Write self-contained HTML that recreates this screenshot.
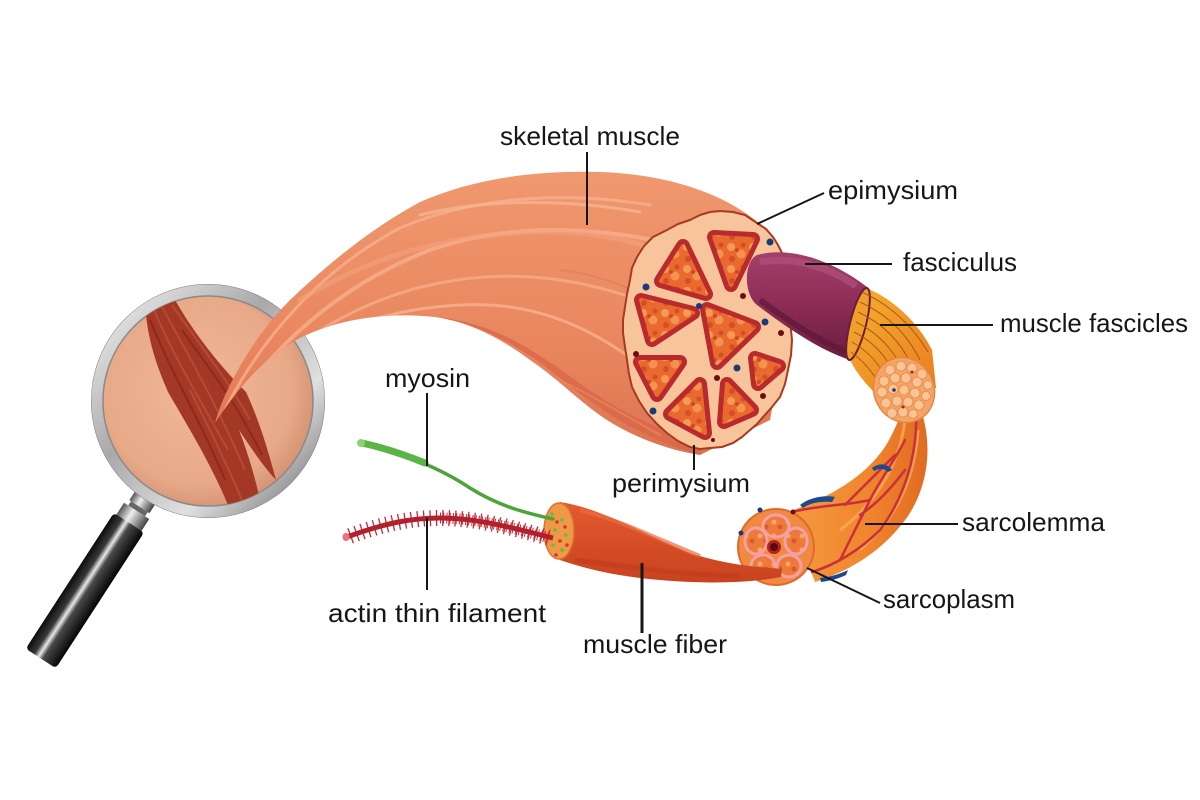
<!DOCTYPE html>
<html><head><meta charset="utf-8"><style>
html,body{margin:0;padding:0;background:#fff;}
svg{display:block;}
text{font-family:"Liberation Sans",Arial,sans-serif;font-size:26px;fill:#161616;}
</style></head><body>
<svg width="1200" height="800" viewBox="0 0 1200 800" xmlns="http://www.w3.org/2000/svg">
<defs>
  <linearGradient id="musc" x1="0" y1="0" x2="0" y2="1">
    <stop offset="0" stop-color="#f0986f"/><stop offset="0.6" stop-color="#e9865f"/><stop offset="1" stop-color="#dc7452"/>
  </linearGradient>
  <radialGradient id="lens" cx="0.45" cy="0.45" r="0.6">
    <stop offset="0" stop-color="#f0b898"/><stop offset="0.75" stop-color="#e8a988"/><stop offset="1" stop-color="#cf8f70"/>
  </radialGradient>
  <linearGradient id="ring" x1="0" y1="0" x2="1" y2="1">
    <stop offset="0" stop-color="#f4f4f4"/><stop offset="0.4" stop-color="#a9a9a9"/><stop offset="0.7" stop-color="#e0e0e0"/><stop offset="1" stop-color="#6a6a6a"/>
  </linearGradient>
  <linearGradient id="blk" x1="0" y1="0" x2="1" y2="0">
    <stop offset="0" stop-color="#0c0c0c"/><stop offset="0.28" stop-color="#3a3a3a"/><stop offset="0.42" stop-color="#e8e8e8"/><stop offset="0.55" stop-color="#4a4a4a"/><stop offset="1" stop-color="#050505"/>
  </linearGradient>
  <linearGradient id="silv" x1="0" y1="0" x2="1" y2="0">
    <stop offset="0" stop-color="#555"/><stop offset="0.4" stop-color="#eee"/><stop offset="0.7" stop-color="#999"/><stop offset="1" stop-color="#444"/>
  </linearGradient>
  <pattern id="mott" width="22" height="22" patternUnits="userSpaceOnUse">
    <rect width="22" height="22" fill="#e9692f"/>
    <circle cx="5" cy="5" r="4" fill="#f59a55"/><circle cx="15" cy="12" r="4.5" fill="#f49350"/>
    <circle cx="6" cy="17" r="3" fill="#d44f26"/><circle cx="17" cy="3" r="2.5" fill="#d44f26"/>
    <circle cx="11" cy="8" r="2" fill="#cf4a24"/>
  </pattern>
  <pattern id="mott2" width="14" height="14" patternUnits="userSpaceOnUse">
    <rect width="14" height="14" fill="#ee7a3a"/>
    <circle cx="4" cy="4" r="2.5" fill="#f6a868"/><circle cx="10" cy="9" r="2.5" fill="#d65a2a"/>
  </pattern>
  <linearGradient id="purp" x1="0" y1="0" x2="0" y2="1">
    <stop offset="0" stop-color="#a2406a"/><stop offset="0.5" stop-color="#8c2c55"/><stop offset="1" stop-color="#6a1d3e"/>
  </linearGradient>
  <linearGradient id="yel" x1="0" y1="0" x2="1" y2="1">
    <stop offset="0" stop-color="#f4b02c"/><stop offset="1" stop-color="#ea7d20"/>
  </linearGradient>
  <linearGradient id="sarc" x1="0" y1="0" x2="1" y2="0">
    <stop offset="0" stop-color="#f59a40"/><stop offset="0.6" stop-color="#f0842c"/><stop offset="1" stop-color="#e06a22"/>
  </linearGradient>
  <linearGradient id="fib" x1="0" y1="0" x2="0" y2="1">
    <stop offset="0" stop-color="#e45a30"/><stop offset="1" stop-color="#c9421f"/>
  </linearGradient>
  <clipPath id="lensclip"><circle cx="208" cy="401" r="105"/></clipPath>
  <clipPath id="bodyclip"><path d="M215,423 C222,395 250,340 290,300 C330,262 372,228 420,202 C470,180 530,170 600,172 C660,174 720,190 760,224 L792,300 L770,420 L700,455 C670,450 640,440 610,422 C580,403 560,380 530,360 C500,338 470,322 435,317 C390,312 340,318 300,338 C265,356 238,388 215,423 Z"/></clipPath>
</defs>

<!-- Magnifier handle -->
<g transform="translate(208,401) rotate(33)">
  <rect x="-12" y="114" width="24" height="12" fill="url(#silv)"/>
  <rect x="-10" y="126" width="20" height="5" fill="#666"/>
  <rect x="-15" y="131" width="30" height="14" fill="url(#silv)"/>
  <rect x="-18" y="145" width="36" height="162" rx="4" fill="url(#blk)"/>
</g>
<!-- Magnifier ring & lens -->
<circle cx="208" cy="401" r="117" fill="#7a7a7a"/>
<circle cx="208" cy="401" r="111" fill="none" stroke="url(#ring)" stroke-width="11"/>
<circle cx="208" cy="401" r="105" fill="url(#lens)" stroke="#8a8a8a" stroke-width="1.5"/>
<g clip-path="url(#lensclip)">
  <path d="M145,300 L175,300 C198,340 226,372 246,392 C259,420 268,450 276,480 C263,466 251,448 239,430 C249,456 258,486 264,520 L234,520 C216,472 190,430 168,392 C155,362 146,334 145,300 Z" fill="#a33826"/>
  <path d="M152,305 C170,350 200,400 228,450 M160,303 C185,350 215,400 245,470 M172,305 C200,345 228,380 250,420 M190,390 C210,430 230,470 248,515" stroke="#c0533a" stroke-width="2" fill="none" opacity="0.7"/>
  <path d="M150,320 C170,370 200,420 225,480 M182,330 C210,370 235,400 262,455" stroke="#7e2216" stroke-width="2" fill="none" opacity="0.6"/>
</g>

<!-- Main skeletal muscle body -->
<path d="M215,423 C222,395 250,340 290,300 C330,262 372,228 420,202 C470,180 530,170 600,172 C660,174 720,190 760,224 L792,300 L770,420 L700,455 C670,450 640,440 610,422 C580,403 560,380 530,360 C500,338 470,322 435,317 C390,312 340,318 300,338 C265,356 238,388 215,423 Z" fill="url(#musc)"/>
<g clip-path="url(#bodyclip)">
<path d="M435,317 C480,324 520,346 560,378 C600,410 640,438 700,455 L705,440 C650,430 610,405 575,380 C530,347 490,322 435,317 Z" fill="#d86847" opacity="0.8"/>
<g fill="none" stroke-linecap="round">
  <path d="M225,410 C260,340 320,270 400,228 C470,198 560,190 650,205" stroke="#f6b08e" stroke-width="3" opacity="0.8"/>
  <path d="M232,408 C275,345 340,285 430,250 C510,222 600,225 700,250" stroke="#f7b592" stroke-width="4" opacity="0.7"/>
  <path d="M222,415 C270,360 340,305 430,285 C520,265 600,280 690,320" stroke="#f5ad88" stroke-width="3" opacity="0.8"/>
  <path d="M240,398 C300,340 370,310 460,305 C550,300 610,340 660,380" stroke="#f8b896" stroke-width="3" opacity="0.7"/>
  <path d="M300,300 C380,250 470,230 560,232 C620,234 670,250 720,280" stroke="#f3a27e" stroke-width="5" opacity="0.6"/>
  <path d="M420,215 C480,200 560,198 640,212" stroke="#f8b694" stroke-width="3" opacity="0.7"/>
  <path d="M470,345 C530,360 590,395 660,435" stroke="#ec7f5e" stroke-width="2" opacity="0.8"/>
  <path d="M560,270 C610,275 660,300 700,330" stroke="#e07656" stroke-width="2" opacity="0.5"/>
</g>
</g>

<!-- Cross-section (epimysium) -->
<polygon points="757,223 745,215 733,212 720,211 710,212 700,215 690,220 678,224 667,230 653,237 644,246 637,257 632,268 630,280 627,294 625,307 623,320 623,333 625,347 627,360 629,374 632,387 639,401 647,413 657,424 667,433 678,441 690,447 700,449 710,448 722,447 733,443 742,437 750,430 757,424 763,417 772,407 780,397 785,384 788,370 791,355 792,340 791,330 790,323 788,306 785,290 784,272 782,253 778,245 773,237 766,229" fill="#f7c49c" stroke="#a83a22" stroke-width="2" stroke-linejoin="round"/>
<g stroke-linejoin="round">
  <g fill="#b92a2c" stroke="#b92a2c" stroke-width="14">
    <polygon points="714,237 753,239 731,285"/>
    <polygon points="683,246 661,281 706,294"/>
    <polygon points="641,300 693,313 652,340"/>
    <polygon points="707,309 754,327 717,363"/>
    <polygon points="640,362 680,362 657,395"/>
    <polygon points="700,384 670,414 705,433"/>
    <polygon points="727,384 752,410 724,422"/>
    <polygon points="755,358 779,366 758,384"/>
  </g>
  <g fill="url(#mott)" stroke="url(#mott)" stroke-width="4">
    <polygon points="714,237 753,239 731,285"/>
    <polygon points="683,246 661,281 706,294"/>
    <polygon points="641,300 693,313 652,340"/>
    <polygon points="707,309 754,327 717,363"/>
    <polygon points="640,362 680,362 657,395"/>
    <polygon points="700,384 670,414 705,433"/>
    <polygon points="727,384 752,410 724,422"/>
    <polygon points="755,358 779,366 758,384"/>
  </g>
</g>
<g fill="#1d3a78">
  <circle cx="770" cy="242" r="3.5"/><circle cx="646" cy="287" r="3.5"/><circle cx="699" cy="306" r="3"/>
  <circle cx="765" cy="322" r="3.5"/><circle cx="737" cy="368" r="3.5"/><circle cx="653" cy="411" r="3.5"/>
</g>
<g fill="#6b0f12">
  <circle cx="743" cy="296" r="3"/><circle cx="781" cy="333" r="3"/><circle cx="636" cy="354" r="3"/>
  <circle cx="717" cy="378" r="3"/><circle cx="763" cy="396" r="3"/><circle cx="713" cy="440" r="2"/>
</g>

<!-- Sarcolemma bundle -->
<path d="M913,392 C934,430 932,480 908,516 C884,550 852,570 815,582 L788,512 C830,497 868,476 888,442 C898,424 904,405 910,394 Z" fill="url(#sarc)"/>
<path d="M905,420 C900,460 880,500 840,530 M918,430 C915,480 895,520 860,550" stroke="#f8b060" stroke-width="3" fill="none" opacity="0.7"/>
<g fill="none" stroke="#c8303a" stroke-width="2.5" stroke-linecap="round">
  <path d="M915,398 C920,440 910,490 880,530 C860,550 835,565 812,572"/>
  <path d="M792,512 C820,505 850,505 870,500 C880,480 895,460 905,440"/>
  <path d="M870,500 C860,520 850,540 840,560"/>
  <path d="M845,505 C860,490 880,470 895,455"/>
  <path d="M905,470 C890,490 875,505 860,515"/>
</g>
<g fill="#1d4a8a">
  <path d="M800,505 C810,497 825,495 835,497 L832,502 C820,501 810,503 803,508 Z"/>
  <path d="M872,468 C880,462 888,464 892,470 L888,472 C884,468 879,468 874,471 Z"/>
  <path d="M820,578 C830,577 840,574 848,570 L846,575 C838,579 829,581 821,582 Z"/>
</g>

<!-- Fasciculus tube -->
<path d="M757,255 C790,246 832,260 867,287 L850,360 C820,350 790,330 757,305 C744,295 743,262 757,255 Z" fill="url(#purp)"/>
<path d="M760,262 C795,256 830,268 856,286" stroke="#b0507a" stroke-width="7" fill="none" opacity="0.7"/>
<path d="M760,300 C790,322 820,342 848,352" stroke="#5e1836" stroke-width="6" fill="none" opacity="0.7"/>
<!-- Muscle fascicles -->
<path d="M866,288 C892,298 918,322 932,350 L936,388 L874,392 C864,382 856,372 850,360 Z" fill="url(#yel)"/>
<ellipse cx="858" cy="324" rx="8" ry="37" transform="rotate(14 858 324)" fill="#f0a02a" stroke="#6a1d3e" stroke-width="2"/>
<g fill="none" stroke="#a8501a" stroke-width="1" opacity="0.9">
  <path d="M862,292 C890,305 912,325 928,352"/>
  <path d="M860,302 C886,314 906,332 920,360"/>
  <path d="M858,312 C882,323 900,340 912,366"/>
  <path d="M856,322 C878,333 894,350 904,372"/>
  <path d="M854,332 C874,342 888,358 896,378"/>
  <path d="M852,342 C868,351 880,364 888,382"/>
  <path d="M851,352 C862,360 872,370 880,386"/>
</g>
<!-- Bubble cap -->
<ellipse cx="904" cy="390" rx="30" ry="33" transform="rotate(-25 904 390)" fill="#f4a466" stroke="#e2863e" stroke-width="1.5"/>
<g fill="#fbc494" stroke="#e48a48" stroke-width="0.8">
  <circle cx="890" cy="370" r="5"/><circle cx="901" cy="366" r="5"/><circle cx="912" cy="368" r="5"/><circle cx="922" cy="374" r="5"/>
  <circle cx="884" cy="381" r="5"/><circle cx="895" cy="378" r="5"/><circle cx="906" cy="378" r="5"/><circle cx="917" cy="382" r="5"/><circle cx="928" cy="385" r="4.5"/>
  <circle cx="882" cy="392" r="5"/><circle cx="893" cy="389" r="5"/><circle cx="904" cy="390" r="5"/><circle cx="915" cy="393" r="5"/><circle cx="926" cy="396" r="4.5"/>
  <circle cx="886" cy="403" r="5"/><circle cx="897" cy="401" r="5"/><circle cx="908" cy="402" r="5"/><circle cx="919" cy="405" r="5"/>
  <circle cx="892" cy="413" r="5"/><circle cx="903" cy="412" r="5"/><circle cx="913" cy="414" r="4.5"/>
</g>
<circle cx="894" cy="390" r="1.8" fill="#1d3a78"/><circle cx="912" cy="372" r="1.5" fill="#b02020"/><circle cx="903" cy="407" r="1.5" fill="#b02020"/>

<!-- Lower cross-section (sarcoplasm) -->
<circle cx="776" cy="547" r="38" fill="#f08a40" stroke="#e06a2a" stroke-width="2"/>
<g fill="url(#mott2)" stroke="#f4a0a6" stroke-width="3">
  <ellipse cx="776" cy="526" rx="13" ry="11"/>
  <ellipse cx="796" cy="541" rx="11" ry="13"/>
  <ellipse cx="789" cy="566" rx="12" ry="11"/>
  <ellipse cx="763" cy="566" rx="12" ry="11"/>
  <ellipse cx="756" cy="541" rx="11" ry="13"/>
</g>
<circle cx="774" cy="547" r="7" fill="#b22222"/><circle cx="774" cy="547" r="4" fill="#5a0a0a"/>
<circle cx="793" cy="512" r="2.5" fill="#6b0f12"/>
<g fill="#1d3a78"><circle cx="741" cy="533" r="2.5"/><circle cx="745" cy="578" r="2.5"/><circle cx="760" cy="510" r="2.5"/></g>

<!-- Muscle fiber -->
<path d="M560,502 C600,508 640,532 690,553 C730,566 760,567 782,569 L781,577 C750,583 700,585 640,578 C600,573 578,566 560,560 Z" fill="url(#fib)"/>
<path d="M575,560 C620,566 680,575 740,576" stroke="#c13d1d" stroke-width="5" fill="none" opacity="0.7"/>
<path d="M580,510 C620,520 660,540 700,556" stroke="#ea6e42" stroke-width="4" fill="none" opacity="0.7"/>
<ellipse cx="559" cy="531" rx="15" ry="28" fill="#ef9848" stroke="#e07030" stroke-width="1.5"/>
<g fill="#5fbf3e"><circle cx="552" cy="514" r="1.8"/><circle cx="562" cy="520" r="1.8"/><circle cx="555" cy="530" r="1.8"/><circle cx="566" cy="535" r="1.8"/><circle cx="553" cy="545" r="1.8"/><circle cx="562" cy="550" r="1.8"/></g>
<g fill="#d03a24"><circle cx="557" cy="522" r="1.8"/><circle cx="565" cy="527" r="1.8"/><circle cx="550" cy="537" r="1.8"/><circle cx="560" cy="541" r="1.8"/><circle cx="567" cy="545" r="1.8"/><circle cx="556" cy="555" r="1.8"/></g>

<!-- Myosin (green) -->
<path d="M362,443 C400,452 440,468 470,488 C500,507 530,514 553,519" stroke="#4ea43a" stroke-width="3.5" fill="none" stroke-linecap="round"/>
<path d="M362,443 C385,448 405,455 425,463" stroke="#5bb446" stroke-width="7" fill="none" stroke-linecap="round"/>
<circle cx="361" cy="443" r="4" fill="#8fd072"/>

<!-- Actin (red) -->
<path d="M350,536 C385,523 412,518 440,518 C480,518 520,530 550,538" stroke="#c42a36" stroke-width="16" stroke-dasharray="1.3 5" fill="none"/>
<path d="M440,518 C480,518 520,530 550,538" stroke="#c42a36" stroke-width="11" stroke-dasharray="1 2.2" fill="none"/>
<path d="M347,537 C385,523 412,518 440,518 C480,518 520,530 553,538" stroke="#b2202e" stroke-width="5" fill="none"/>
<ellipse cx="346" cy="537" rx="3.5" ry="4" fill="#ee6e7a"/>

<!-- Leader lines -->
<g stroke="#161616" stroke-width="2" fill="none">
  <line x1="587" y1="152" x2="587" y2="225"/>
  <line x1="824" y1="193" x2="757" y2="224"/>
  <line x1="805" y1="264" x2="892" y2="264"/>
  <line x1="880" y1="325" x2="993" y2="325"/>
  <line x1="694" y1="445" x2="694" y2="470"/>
  <line x1="427" y1="393" x2="427" y2="466"/>
  <line x1="865" y1="524" x2="958" y2="524"/>
  <line x1="807" y1="568" x2="880" y2="603"/>
  <line x1="427" y1="518" x2="427" y2="590"/>
  <line x1="642" y1="563" x2="642" y2="633" stroke-width="3"/>
</g>

<!-- Labels -->
<text x="500" y="145" textLength="180" lengthAdjust="spacingAndGlyphs">skeletal muscle</text>
<text x="828" y="199" textLength="130" lengthAdjust="spacingAndGlyphs">epimysium</text>
<text x="903" y="271" textLength="114" lengthAdjust="spacingAndGlyphs">fasciculus</text>
<text x="1000" y="332" textLength="188" lengthAdjust="spacingAndGlyphs">muscle fascicles</text>
<text x="612" y="492" textLength="138" lengthAdjust="spacingAndGlyphs">perimysium</text>
<text x="385" y="387" textLength="85" lengthAdjust="spacingAndGlyphs">myosin</text>
<text x="962" y="531" textLength="143" lengthAdjust="spacingAndGlyphs">sarcolemma</text>
<text x="883" y="608" textLength="132" lengthAdjust="spacingAndGlyphs">sarcoplasm</text>
<text x="328" y="622" textLength="218" lengthAdjust="spacingAndGlyphs">actin thin filament</text>
<text x="583" y="653" textLength="144" lengthAdjust="spacingAndGlyphs">muscle fiber</text>
</svg>
</body></html>
